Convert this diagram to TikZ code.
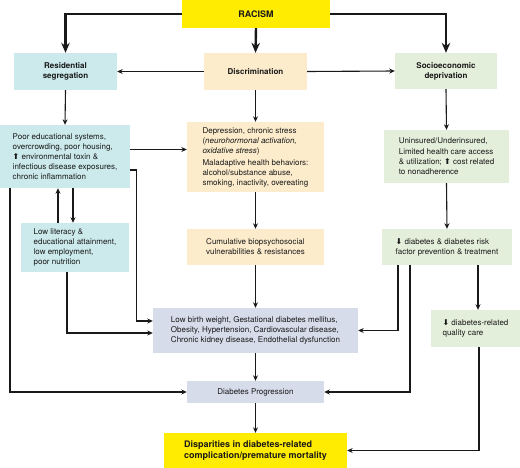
\documentclass[tikz,border=0pt]{standalone}
\usepackage{fontspec}
\setmainfont{TeX Gyre Heros}
\newfontfamily\arrowfont{DejaVu Sans}
\usepackage{xcolor}
\usetikzlibrary{arrows.meta,positioning,calc}

\definecolor{racismyellow}{RGB}{255,236,0}
\definecolor{segcyan}{RGB}{204,234,236}
\definecolor{discpeach}{RGB}{252,236,204}
\definecolor{socgreen}{RGB}{228,239,219}
\definecolor{dislav}{RGB}{214,220,234}
\definecolor{txtgray}{RGB}{25,25,25}

\newcommand{\upar}{{\arrowfont\fontsize{8}{10}\selectfont\char"2B06}}
\newcommand{\downar}{{\arrowfont\fontsize{8}{10}\selectfont\char"2B07}}

\begin{document}
\begin{tikzpicture}[x=1pt, y=-1pt,
    box/.style={inner sep=0pt, align=left, text=txtgray, font=\fontsize{8}{10}\selectfont},
    head/.style={box, align=center, font=\fontsize{8}{10}\selectfont\bfseries},
    arr/.style={-{Stealth[length=5.5pt,width=5pt]}, line width=1.1pt, txtgray},
    bigarr/.style={-{Stealth[length=10pt,width=8.5pt]}, line width=2.4pt, txtgray}]
    \useasboundingbox (0,0) rectangle (520,468);

    % Top row
    \node[head, fill=racismyellow, minimum width=148pt, minimum height=28pt, font=\fontsize{9}{11}\selectfont\bfseries] (racism) at (256,14) {RACISM};
    \node[head, fill=segcyan, minimum width=103pt, minimum height=37pt] (resseg) at (65.5,71.5) {Residential\\segregation};
    \node[head, fill=discpeach, minimum width=103pt, minimum height=37pt] (discr) at (255.5,71.5) {Discrimination};
    \node[head, fill=socgreen, minimum width=102pt, minimum height=36pt] (socio) at (446,71) {Socioeconomic\\deprivation};

    % Pathways
    \node[box, fill=segcyan, minimum width=130pt, minimum height=63pt] (pooredu) at (65,156.5) {Poor educational systems,\\overcrowding, poor housing,\\\upar{} environmental toxin \&\\infectious disease exposures,\\chronic inflammation};
    \node[box, fill=discpeach, minimum width=137pt, minimum height=70pt] (depr) at (255.5,157) {Depression, chronic stress\\(\textit{neurohormonal activation,}\\\textit{oxidative stress})\\[2pt]Maladaptive health behaviors:\\alcohol/substance abuse,\\smoking, inactivity, overeating};
    \node[box, fill=socgreen, minimum width=125pt, minimum height=53pt] (uninsured) at (446.5,156.5) {Uninsured/Underinsured,\\[1pt]Limited health care access\\\& utilization; \upar{} cost related\\to nonadherence};
    \node[box, fill=segcyan, minimum width=108pt, minimum height=49pt] (lowlit) at (75,247.5) {Low literacy \&\\educational attainment,\\low employment,\\poor nutrition};
    \node[box, fill=discpeach, minimum width=137pt, minimum height=36pt] (cumul) at (255.5,247) {Cumulative biopsychosocial\\vulnerabilities \& resistances};
    \node[box, fill=socgreen, minimum width=130pt, minimum height=36pt] (riskprev) at (447,247) {\downar{} diabetes \& diabetes risk\\factor prevention \& treatment};

    % Outcomes
    \node[box, fill=dislav, minimum width=205pt, minimum height=45pt] (lbw) at (255.5,330.5) {Low birth weight, Gestational diabetes mellitus,\\Obesity, Hypertension, Cardiovascular disease,\\Chronic kidney disease, Endothelial dysfunction};
    \node[box, fill=socgreen, minimum width=89pt, minimum height=37pt] (qualcare) at (475.5,328.5) {\downar{} diabetes-related\\quality care};
    \node[box, align=center, fill=dislav, minimum width=137pt, minimum height=22pt] (progr) at (255.5,392) {Diabetes Progression};
    \node[box, fill=racismyellow, minimum width=183pt, minimum height=35pt, font=\fontsize{9}{11.5}\selectfont\bfseries] (disp) at (255.5,450.5) {Disparities in diabetes-related\\complication/premature mortality};

    % Connections from racism
    \draw[bigarr] (racism.west) -| (resseg.north);
    \draw[bigarr] (racism.south) -- (discr.north);
    \draw[bigarr] (racism.east) -| (socio.north);
    \draw[arr] (discr.west) -- (resseg.east);
    \draw[arr] (discr.east) -- (socio.west);

    % Vertical chains
    \draw[arr] (resseg.south) -- (pooredu.north);
    \draw[arr] (discr.south) -- (depr.north);
    \draw[arr] (socio.south) -- (uninsured.north);
    \draw[arr] (depr.south) -- (cumul.north);
    \draw[arr] (uninsured.south) -- (riskprev.north);
    \draw[arr] (cumul.south) -- (lbw.north);
    \draw[arr] (lbw.south) -- (progr.north);
    \draw[arr] (progr.south) -- (disp.north);

    % Residential side
    \draw[arr] ([yshift=7pt]pooredu.east) -- ([yshift=7pt]pooredu.east -| depr.west);
    \draw[arr] ([xshift=-17pt]lowlit.north) -- ([xshift=-17pt]lowlit.north |- pooredu.south);
    \draw[arr] ([xshift=-2pt]lowlit.north |- pooredu.south) -- ([xshift=-2pt]lowlit.north);
    \draw[arr] ([yshift=-13.5pt]pooredu.east) -| ([xshift=-16pt,yshift=9.5pt]lbw.west) -- ([yshift=9.5pt]lbw.west);
    \draw[arr] ([xshift=-8pt]lowlit.south) |- ([yshift=-2.5pt]lbw.west);
    \draw[arr] ([xshift=-55pt]pooredu.south) |- (progr.west);

    % Socioeconomic side
    \draw[arr] ([xshift=-49pt]riskprev.south) |- (lbw.east);
    \draw[arr] ([xshift=-37pt]riskprev.south) |- (progr.east);
    \draw[arr] ([xshift=31pt]riskprev.south) -- ([xshift=31pt]riskprev.south |- qualcare.north);
    \draw[arr] ([xshift=3.5pt]qualcare.south) |- (disp.east);
\end{tikzpicture}
\end{document}
